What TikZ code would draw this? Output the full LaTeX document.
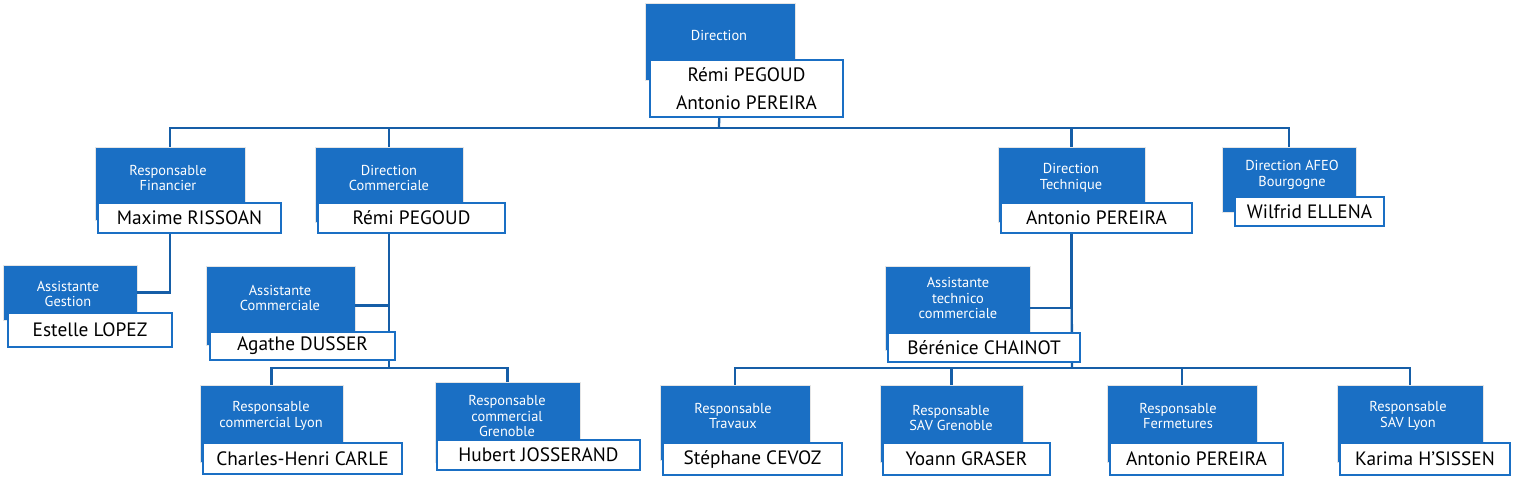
\documentclass[tikz,border=0pt]{standalone}
\usepackage{fontspec}
\setmainfont{PT Sans}
\usetikzlibrary{fit}
\definecolor{orgblue}{HTML}{1A6FC4}
\tikzset{
  titlebox/.style={fill=orgblue, draw=black!10, inner sep=0pt},
  namebox/.style={fill=white, draw=orgblue, line width=1.2pt, inner sep=0pt, font=\fontsize{11}{12}\selectfont},
  titletext/.style={text=white, align=center, font=\fontsize{8.2}{8.8}\selectfont},
  link/.style={draw=orgblue!85!black, line width=1.3pt}
}
\begin{document}
\begin{tikzpicture}[x=0.02cm,y=-0.02cm]
\useasboundingbox (0,0) rectangle (1536,477);

% connectors
\coordinate (bus) at (719,128);
\coordinate (cbus) at (389,368);
\coordinate (tbus) at (1072,368);

% blue title boxes
\node[titlebox, fit={(645,3)(795,80)}] (dir) {};
\node[titlebox, fit={(95,147)(245,220)}] (fin) {};
\node[titlebox, fit={(315,147)(463,222)}] (com) {};
\node[titlebox, fit={(998,147)(1145,222)}] (tech) {};
\node[titlebox, fit={(1222,147)(1356,212)}] (afeo) {};
\node[titlebox, fit={(3,265)(137,320)}] (gest) {};
\node[titlebox, fit={(206,266)(355,345)}] (acom) {};
\node[titlebox, fit={(885,266)(1030,350)}] (atech) {};
\node[titlebox, fit={(200,385)(343,462)}] (lyon) {};
\node[titlebox, fit={(435,382)(580,462)}] (gren) {};
\node[titlebox, fit={(660,385)(810,460)}] (trav) {};
\node[titlebox, fit={(880,385)(1023,462)}] (savg) {};
\node[titlebox, fit={(1107,385)(1257,462)}] (ferm) {};
\node[titlebox, fit={(1337,385)(1483,462)}] (savl) {};

\draw[link] (dir.south) -- (bus);
\draw[link] (fin.north) |- (bus) -| (afeo.north);
\draw[link] (com.north) -- (com.north |- bus);
\draw[link] (tech.north) -- (tech.north |- bus);
\draw[link] (fin.south) |- (gest.east);
\draw[link] (com.south) |- (acom.east);
\draw[link] (com.south) -- (cbus);
\draw[link] (lyon.north) |- (cbus) -| (gren.north);
\draw[link] (tech.south) |- (atech.east);
\draw[link] (tech.south) -- (tbus);
\draw[link] (trav.north) |- (tbus) -| (savl.north);
\draw[link] (savg.north) -- (savg.north |- tbus);
\draw[link] (ferm.north) -- (ferm.north |- tbus);

% titles
\node[titletext] (dirT) at (719,35) {Direction};
\node[titletext] (finT) at (168,178) {Responsable\\Financier};
\node[titletext] (comT) at (389,178) {Direction\\Commerciale};
\node[titletext] (techT) at (1071,178) {Direction\\Technique};
\node[titletext] (afeoT) at (1292,175) {Direction AFEO\\Bourgogne};
\node[titletext] (gestT) at (68,294) {Assistante\\Gestion};
\node[titletext] (acomT) at (280,298) {Assistante\\Commerciale};
\node[titletext] (atechT) at (958,298) {Assistante\\technico\\commerciale};
\node[titletext] (lyonT) at (271,416) {Responsable\\commercial Lyon};
\node[titletext] (grenT) at (507,416) {Responsable\\commercial\\Grenoble};
\node[titletext] (travT) at (733,416) {Responsable\\Travaux};
\node[titletext] (savgT) at (951,418) {Responsable\\SAV Grenoble};
\node[titletext] (fermT) at (1178,416) {Responsable\\Fermetures};
\node[titletext] (savlT) at (1408,416) {Responsable\\SAV Lyon};

% names
\node[namebox, fit={(650,60)(843,117)}, align=center] (dirN) {};
\node at (dirN.center) [font=\fontsize{11}{16}\selectfont, align=center] {Rémi PEGOUD\\Antonio PEREIRA};
\node[namebox, fit={(98,203)(281,233)}] (finN) {}; \node at (finN) {\fontsize{11}{12}\selectfont Maxime RISSOAN};
\node[namebox, fit={(318,203)(505,233)}] (comN) {}; \node at (comN) {\fontsize{11}{12}\selectfont Rémi PEGOUD};
\node[namebox, fit={(1001,203)(1192,233)}] (techN) {}; \node at (techN) {\fontsize{11}{12}\selectfont Antonio PEREIRA};
\node[namebox, fit={(1235,197)(1384,226)}] (afeoN) {}; \node at (afeoN) {\fontsize{11}{12}\selectfont Wilfrid ELLENA};
\node[namebox, fit={(8,313)(172,347)}] (gestN) {}; \node at (gestN) {\fontsize{11}{12}\selectfont Estelle LOPEZ};
\node[namebox, fit={(210,332)(395,360)}] (acomN) {}; \node at (acomN) {\fontsize{11}{12}\selectfont Agathe DUSSER};
\node[namebox, fit={(888,333)(1080,362)}] (atechN) {}; \node at (atechN) {\fontsize{11}{12}\selectfont Bérénice CHAINOT};
\node[namebox, fit={(203,443)(402,474)}] (lyonN) {}; \node at (lyonN) {\fontsize{11}{12}\selectfont Charles-Henri CARLE};
\node[namebox, fit={(437,440)(640,470)}] (grenN) {}; \node at (grenN) {\fontsize{11}{12}\selectfont Hubert JOSSERAND};
\node[namebox, fit={(663,443)(842,475)}] (travN) {}; \node at (travN) {\fontsize{11}{12}\selectfont Stéphane CEVOZ};
\node[namebox, fit={(883,443)(1050,475)}] (savgN) {}; \node at (savgN) {\fontsize{11}{12}\selectfont Yoann GRASER};
\node[namebox, fit={(1110,443)(1283,475)}] (fermN) {}; \node at (fermN) {\fontsize{11}{12}\selectfont Antonio PEREIRA};
\node[namebox, fit={(1340,443)(1510,475)}] (savlN) {}; \node at (savlN) {\fontsize{11}{12}\selectfont Karima H’SISSEN};
\end{tikzpicture}
\end{document}
